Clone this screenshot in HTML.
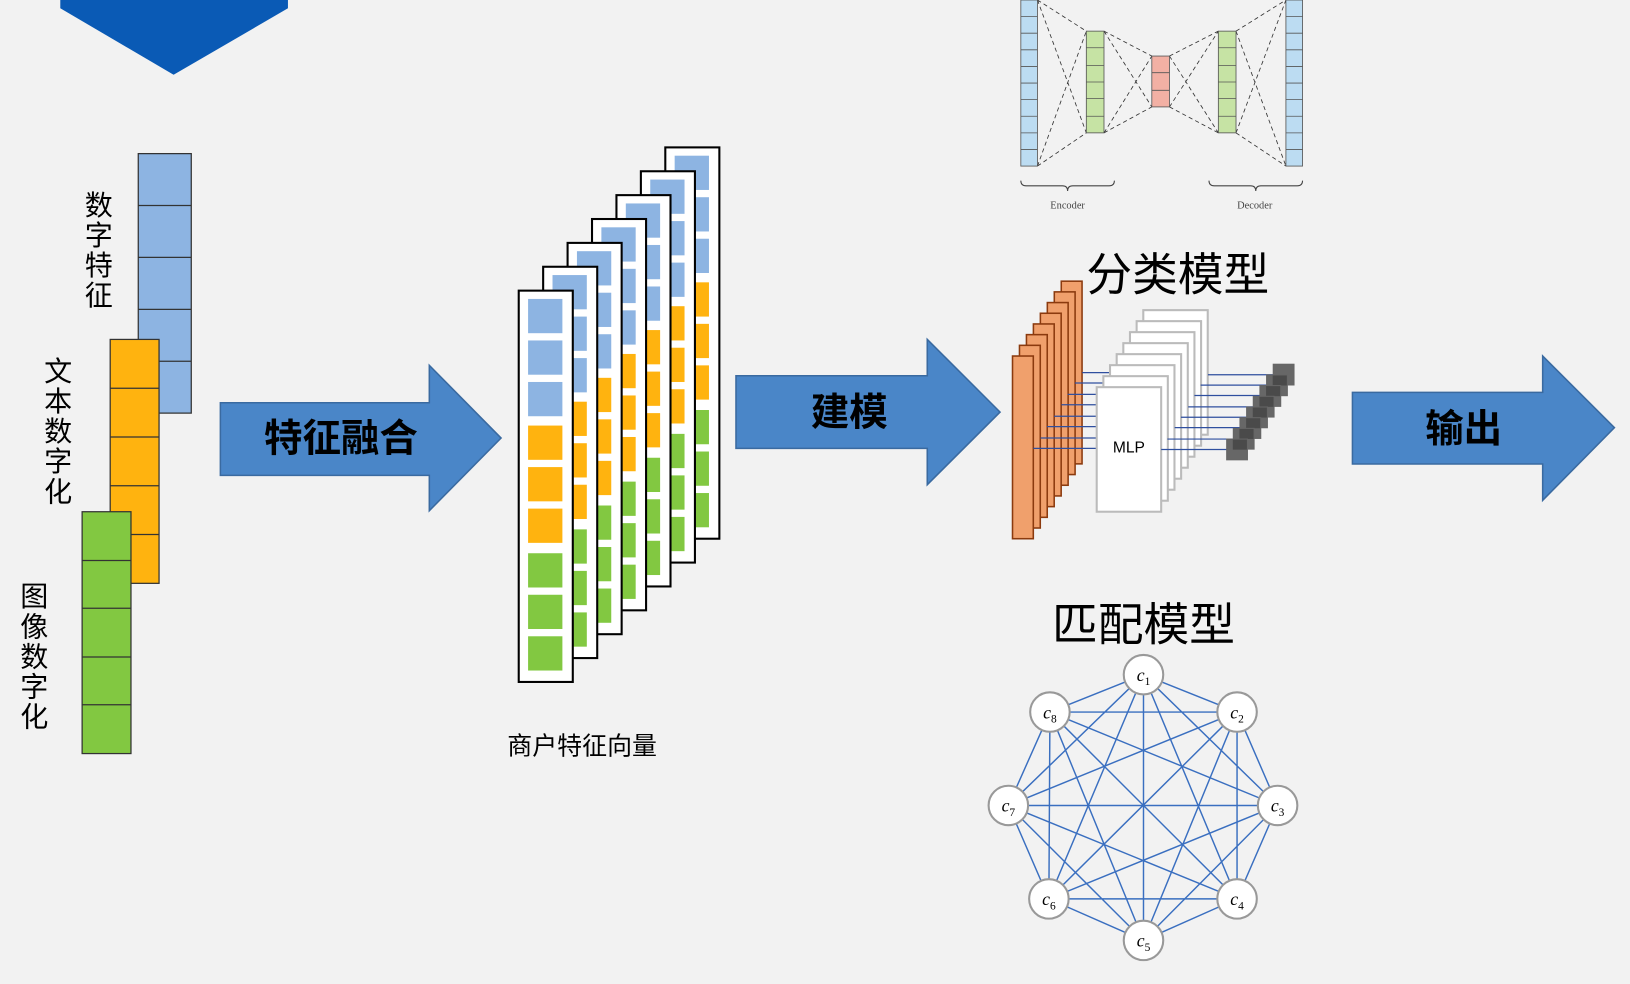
<!DOCTYPE html>
<html><head><meta charset="utf-8"><style>
html,body{margin:0;padding:0;background:#f2f2f2;}
svg{display:block;}
.cjk{font-family:"Liberation Sans","Noto Sans CJK SC",sans-serif;}
</style></head><body>
<svg width="1630" height="984" viewBox="0 0 1568 948" preserveAspectRatio="none" xmlns="http://www.w3.org/2000/svg">
<rect width="1568" height="948" fill="#f2f2f2"/>
<defs>
<g id="frame">
<rect x="0" y="0" width="52" height="377" fill="#fff" stroke="#000" stroke-width="2"/>
<rect x="9" y="8" width="33" height="33" fill="#8db4e2"/>
<rect x="9" y="48" width="33" height="33" fill="#8db4e2"/>
<rect x="9" y="88" width="33" height="33" fill="#8db4e2"/>
<rect x="9" y="130" width="33" height="33" fill="#ffb30f"/>
<rect x="9" y="170" width="33" height="33" fill="#ffb30f"/>
<rect x="9" y="210" width="33" height="33" fill="#ffb30f"/>
<rect x="9" y="253" width="33" height="33" fill="#82c841"/>
<rect x="9" y="293" width="33" height="33" fill="#82c841"/>
<rect x="9" y="333" width="33" height="33" fill="#82c841"/>
</g>
<rect id="orp" x="974" y="343" width="20" height="176" fill="#f0a06c" stroke="#8b3a0e" stroke-width="1.5"/>
<rect id="mlp" x="1055" y="373" width="62" height="120" fill="#fff" stroke="#bbb" stroke-width="2"/>
<rect id="sq" x="1180" y="423" width="20" height="20" fill="#444" fill-opacity="0.8" stroke="#666"/>
</defs>

<!-- top chevron -->
<polygon points="58,0 277,0 277,8 167,72 58,8" fill="#0a5ab5"/>

<!-- left columns -->
<g stroke="#333" stroke-width="1.2">
<rect x="133" y="148" width="51" height="250" fill="#8db4e2"/>
<line x1="133" y1="198" x2="184" y2="198"/><line x1="133" y1="248" x2="184" y2="248"/>
<line x1="133" y1="298" x2="184" y2="298"/><line x1="133" y1="348" x2="184" y2="348"/>
<rect x="106" y="327" width="47" height="235" fill="#ffb30f"/>
<line x1="106" y1="374" x2="153" y2="374"/><line x1="106" y1="421" x2="153" y2="421"/>
<line x1="106" y1="468" x2="153" y2="468"/><line x1="106" y1="515" x2="153" y2="515"/>
<rect x="79" y="493" width="47" height="233" fill="#82c841"/>
<line x1="79" y1="540" x2="126" y2="540"/><line x1="79" y1="586" x2="126" y2="586"/>
<line x1="79" y1="633" x2="126" y2="633"/><line x1="79" y1="679" x2="126" y2="679"/>
</g>
<g class="cjk" font-size="27" text-anchor="middle" fill="#000">
<text x="95" y="207">数</text><text x="95" y="236">字</text><text x="95" y="265">特</text><text x="95" y="294">征</text>
<text x="56" y="367">文</text><text x="56" y="396">本</text><text x="56" y="425">数</text><text x="56" y="454">字</text><text x="56" y="483">化</text>
<text x="33" y="584">图</text><text x="33" y="613">像</text><text x="33" y="642">数</text><text x="33" y="671">字</text><text x="33" y="700">化</text>
</g>

<!-- arrows -->
<g fill="#4a86c8" stroke="#3a6aa0" stroke-width="1.5">
<polygon points="212,388 413,388 413,352 482,422 413,492 413,458 212,458"/>
<polygon points="708,362 892,362 892,327 962,397 892,467 892,432 708,432"/>
<polygon points="1301,378 1484,378 1484,343 1553,412 1484,482 1484,447 1301,447"/>
</g>
<g class="cjk" font-size="37" font-weight="bold" text-anchor="middle" fill="#000">
<text x="328" y="435">特征融合</text>
<text x="817" y="410">建模</text>
<text x="1408" y="426">输出</text>
</g>

<!-- frames -->
<use href="#frame" transform="translate(640,142)"/>
<use href="#frame" transform="translate(616.5,165)"/>
<use href="#frame" transform="translate(593,188)"/>
<use href="#frame" transform="translate(569.5,211)"/>
<use href="#frame" transform="translate(546,234)"/>
<use href="#frame" transform="translate(522.5,257)"/>
<use href="#frame" transform="translate(499,280)"/>
<text class="cjk" x="560" y="727" font-size="24" text-anchor="middle">商户特征向量</text>

<!-- autoencoder -->
<g stroke="#333" stroke-width="0.8" fill="none" stroke-dasharray="4,3">
<path d="M998 0L1045 30M998 0L1045 128M998 160L1045 30M998 160L1045 128
M1062 30L1108 54M1062 30L1108 103M1062 128L1108 54M1062 128L1108 103
M1125 54L1172 30M1125 54L1172 128M1125 103L1172 30M1125 103L1172 128
M1189 30L1237 0M1189 30L1237 160M1189 128L1237 0M1189 128L1237 160"/>
</g>
<g stroke="#555" stroke-width="0.8">
<rect x="982" y="0" width="16" height="160" fill="#bcdcf2"/>
<path d="M982 16H998M982 32H998M982 48H998M982 64H998M982 80H998M982 96H998M982 112H998M982 128H998M982 144H998"/>
<rect x="1237" y="0" width="16" height="160" fill="#bcdcf2"/>
<path d="M1237 16H1253M1237 32H1253M1237 48H1253M1237 64H1253M1237 80H1253M1237 96H1253M1237 112H1253M1237 128H1253M1237 144H1253"/>
<rect x="1045" y="30" width="17" height="98" fill="#c6e3a4"/>
<path d="M1045 46H1062M1045 63H1062M1045 79H1062M1045 95H1062M1045 112H1062"/>
<rect x="1172" y="30" width="17" height="98" fill="#c6e3a4"/>
<path d="M1172 46H1189M1172 63H1189M1172 79H1189M1172 95H1189M1172 112H1189"/>
<rect x="1108" y="54" width="17" height="49" fill="#f2b0a4"/>
<path d="M1108 70H1125M1108 87H1125"/>
</g>
<g stroke="#444" stroke-width="1" fill="none">
<path d="M982 174q0 5 5 5h35q5 0 5 5q0 -5 5 -5h35q5 0 5 -5"/>
<path d="M1163 174q0 5 5 5h35q5 0 5 5q0 -5 5 -5h35q5 0 5 -5"/>
</g>
<g font-family="Liberation Serif,serif" font-size="10" fill="#444" text-anchor="middle">
<text x="1027" y="201">Encoder</text><text x="1207" y="201">Decoder</text>
</g>

<!-- classification -->
<text class="cjk" x="1133" y="280" font-size="44" text-anchor="middle">分类模型</text>
<use href="#orp" transform="translate(46.9,-72.1)"/>
<use href="#orp" transform="translate(40.2,-61.8)"/>
<use href="#orp" transform="translate(33.5,-51.5)"/>
<use href="#orp" transform="translate(26.8,-41.2)"/>
<use href="#orp" transform="translate(20.1,-30.9)"/>
<use href="#orp" transform="translate(13.4,-20.6)"/>
<use href="#orp" transform="translate(6.7,-10.3)"/>
<use href="#orp"/>
<g stroke="#2f4f9f" stroke-width="1.2">
<path d="M994 432H1055M1001 422H1061M1007 411H1068M1014 401H1074M1021 390H1081M1027 380H1087M1034 369H1093M1041 359H1100"/>
</g>
<use href="#mlp" transform="translate(44.8,-74.2)"/>
<use href="#mlp" transform="translate(38.4,-63.6)"/>
<use href="#mlp" transform="translate(32,-53)"/>
<use href="#mlp" transform="translate(25.6,-42.4)"/>
<use href="#mlp" transform="translate(19.2,-31.8)"/>
<use href="#mlp" transform="translate(12.8,-21.2)"/>
<use href="#mlp" transform="translate(6.4,-10.6)"/>
<use href="#mlp"/>
<text x="1086" y="436" font-family="Liberation Sans,sans-serif" font-size="15" text-anchor="middle">MLP</text>
<g stroke="#2f4f9f" stroke-width="1.2">
<path d="M1117 433H1180M1123 423H1186M1130 412H1193M1136 402H1199M1143 392H1206M1149 381H1212M1155 371H1218M1162 361H1225"/>
</g>
<use href="#sq" transform="translate(44.8,-72.1)"/>
<use href="#sq" transform="translate(38.4,-61.8)"/>
<use href="#sq" transform="translate(32,-51.5)"/>
<use href="#sq" transform="translate(25.6,-41.2)"/>
<use href="#sq" transform="translate(19.2,-30.9)"/>
<use href="#sq" transform="translate(12.8,-20.6)"/>
<use href="#sq" transform="translate(6.4,-10.3)"/>
<use href="#sq"/>

<!-- matching graph -->
<text class="cjk" x="1100" y="617" font-size="44" text-anchor="middle">匹配模型</text>
<g stroke="#3a6fc0" stroke-width="1.4" fill="none">
<path d="M1100 650L1190 686M1100 650L1229 776M1100 650L1190 866M1100 650L1100 906M1100 650L1009 866M1100 650L970 776M1100 650L1010 686
M1190 686L1229 776M1190 686L1190 866M1190 686L1100 906M1190 686L1009 866M1190 686L970 776M1190 686L1010 686
M1229 776L1190 866M1229 776L1100 906M1229 776L1009 866M1229 776L970 776M1229 776L1010 686
M1190 866L1100 906M1190 866L1009 866M1190 866L970 776M1190 866L1010 686
M1100 906L1009 866M1100 906L970 776M1100 906L1010 686
M1009 866L970 776M1009 866L1010 686
M970 776L1010 686"/>
</g>
<g fill="#fff" stroke="#999" stroke-width="2">
<circle cx="1100" cy="650" r="19"/><circle cx="1190" cy="686" r="19"/><circle cx="1229" cy="776" r="19"/><circle cx="1190" cy="866" r="19"/>
<circle cx="1100" cy="906" r="19"/><circle cx="1009" cy="866" r="19"/><circle cx="970" cy="776" r="19"/><circle cx="1010" cy="686" r="19"/>
</g>
<g font-family="Liberation Serif,serif" font-style="italic" font-size="17" text-anchor="middle">
<text x="1100" y="656">c<tspan font-size="11" dy="4" font-style="normal">1</tspan></text>
<text x="1190" y="692">c<tspan font-size="11" dy="4" font-style="normal">2</tspan></text>
<text x="1229" y="782">c<tspan font-size="11" dy="4" font-style="normal">3</tspan></text>
<text x="1190" y="872">c<tspan font-size="11" dy="4" font-style="normal">4</tspan></text>
<text x="1100" y="912">c<tspan font-size="11" dy="4" font-style="normal">5</tspan></text>
<text x="1009" y="872">c<tspan font-size="11" dy="4" font-style="normal">6</tspan></text>
<text x="970" y="782">c<tspan font-size="11" dy="4" font-style="normal">7</tspan></text>
<text x="1010" y="692">c<tspan font-size="11" dy="4" font-style="normal">8</tspan></text>
</g>
</svg>
</body></html>
